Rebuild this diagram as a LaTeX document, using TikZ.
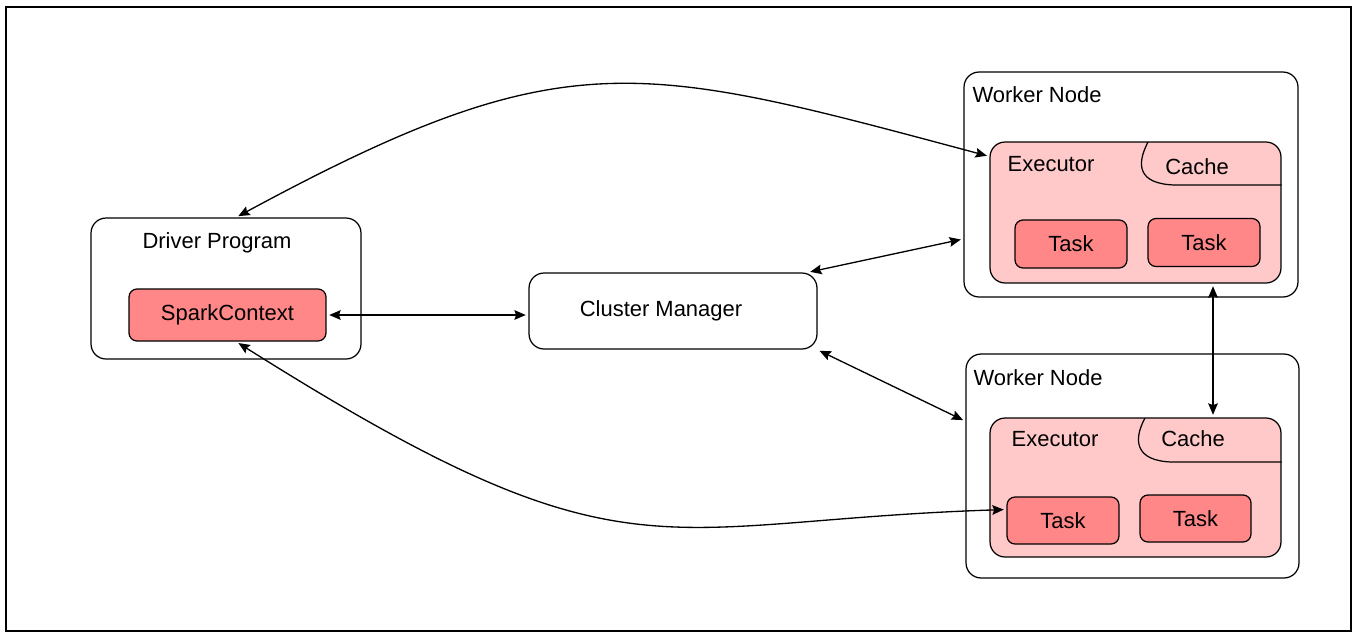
\documentclass[tikz,border=0pt]{standalone}
\usepackage{fontspec}
\setmainfont{Liberation Sans}
\usepackage{xcolor}
\usepackage{tikz}
\usetikzlibrary{arrows}
\usetikzlibrary{arrows.meta}
\definecolor{taskred}{HTML}{FF8787}
\definecolor{execpink}{HTML}{FFC9C9}
\newcommand{\sketchfont}{\fontsize{12.5}{15}\selectfont}
\tikzset{
	box node/.style={rectangle,draw,rounded corners=0.3cm,line width=0.7pt},
	exec node/.style={rectangle,draw,fill=execpink,rounded corners=0.3cm,line width=0.7pt},
	task node/.style={rectangle,draw,fill=taskred,rounded corners=0.16cm,line width=0.7pt,font=\sketchfont},
	label text/.style={font=\sketchfont,inner sep=0pt},
	link/.style={<->,line width=0.75pt,shorten <=1.5pt,shorten >=1.5pt}
}

\begin{document}
\begin{tikzpicture}[>={Stealth[length=6.5pt,width=5.5pt,inset=1pt]},x=0.02cm,y=-0.02cm]
	\useasboundingbox (0,0) rectangle (1358,637);
	\draw [line width=0.8pt] (6,7) rectangle (1351,631);
	% driver
	\node [box node,minimum width=5.4cm,minimum height=2.82cm] (driver) at (226,288.5) {};
	\node [label text] (drivertitle) at (217,243) {Driver Program};
	\node [task node,minimum width=3.94cm,minimum height=1.04cm] (spark) at (227.5,315) {SparkContext};
	% cluster manager
	\node [box node,minimum width=5.76cm,minimum height=1.52cm] (cluster) at (673,311) {};
	\node [label text] (clustertitle) at (661,311) {Cluster Manager};
	% first worker
	\node [box node,minimum width=6.68cm,minimum height=4.5cm] (w1) at (1131,184.5) {};
	\node [label text] (w1title) at (1037,95) {Worker Node};
	\node [exec node,minimum width=5.82cm,minimum height=2.82cm] (exec1) at (1135.5,212.5) {};
	\draw [line width=0.7pt] (1148,142) .. controls (1136,165) and (1138,184) .. (1175,185) -- (exec1.east |- 0,185);
	\node [label text] (exec1title) at (1051,164) {Executor};
	\node [label text] (cache1) at (1197,167) {Cache};
	\node [task node,minimum width=2.24cm,minimum height=0.96cm] (task11) at (1071,244) {Task};
	\node [task node,minimum width=2.24cm,minimum height=0.96cm] (task12) at (1204,242.5) {Task};
	% second worker
	\node [box node,minimum width=6.66cm,minimum height=4.48cm] (w2) at (1132.5,466) {};
	\node [label text] (w2title) at (1038,378) {Worker Node};
	\node [exec node,minimum width=5.82cm,minimum height=2.78cm] (exec2) at (1135.5,487.5) {};
	\draw [line width=0.7pt] (1145,418) .. controls (1133,440) and (1135,461) .. (1172,462) -- (exec2.east |- 0,462);
	\node [label text] (exec2title) at (1055,439) {Executor};
	\node [label text] (cache2) at (1193,439) {Cache};
	\node [task node,minimum width=2.24cm,minimum height=0.94cm] (task21) at (1063,520.5) {Task};
	\node [task node,minimum width=2.22cm,minimum height=0.94cm] (task22) at (1195.5,518.5) {Task};
	% links
	\coordinate (drop) at (1213,350);
	\draw [link] (driver.82) .. controls (566,39) and (638,62.5) .. (exec1.159);
	\draw [link] (spark.east) -- (cluster.west |- spark.east);
	\draw [link] (cluster.16.5) -- (w1.198);
	\draw [link] (cluster.-15.5) -- (w2.165);
	\draw [link] (exec1.south -| drop) -- (exec2.north -| drop);
	\draw [link] (spark.288) .. controls (630,590) and (650,521) .. (task21.169);
\end{tikzpicture}
\end{document}
